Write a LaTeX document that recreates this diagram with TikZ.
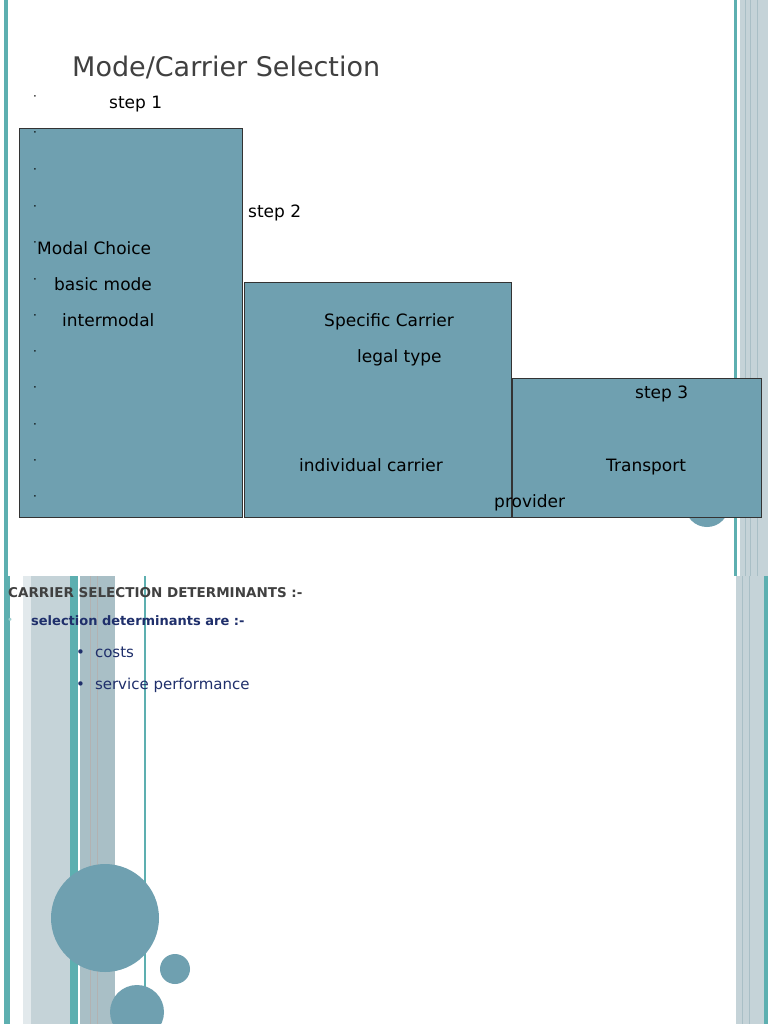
\documentclass[tikz,border=0pt]{standalone}
\usepackage{fontspec}
\setmainfont{DejaVu Sans}
\begin{document}
\begin{tikzpicture}[x=1pt,y=-1pt,
 box/.style={draw=black!80,line width=0.8pt,fill=boxc},
 t/.style={anchor=base west,inner sep=0,font=\fontsize{17}{17}\selectfont},
 dot/.style={anchor=base,inner sep=0,font=\fontsize{12}{12}\selectfont}]
\definecolor{boxc}{HTML}{6FA0B0}
\definecolor{teal1}{HTML}{5DAFB0}
\definecolor{lg}{HTML}{C5D3D8}
\definecolor{mg}{HTML}{A9BFC6}
\definecolor{navy}{HTML}{1F2F6B}
\useasboundingbox (0,0) rectangle (768,1024);
\fill[white] (0,0) rectangle (768,1024);
% top slide decorations
\fill[teal1] (4,0) rectangle (8,576);
\fill[lg] (740,0) rectangle (768,576);
\fill[teal1] (734,0) rectangle (737,576);
\draw[mg] (745,0)--(745,576) (750,0)--(750,576) (757,0)--(757,576);
\fill[boxc] (707,505) circle (22);
% bottom slide decorations
\fill[lg] (736,576) rectangle (768,1024);
\fill[teal1] (764,576) rectangle (768,1024);
\draw[mg] (742,576)--(742,1024) (749,576)--(749,1024);
\fill[teal1] (4,576) rectangle (10,1024);
\fill[lg!50] (23,576) rectangle (31,1024);
\fill[lg] (31,576) rectangle (70,1024);
\fill[teal1] (70,576) rectangle (78,1024);
\fill[mg] (80,576) rectangle (115,1024);
\draw[black!30] (90,576)--(90,1024) (97,576)--(97,1024);
\fill[teal1] (144,576) rectangle (146,1024);
\fill[boxc] (105,918) circle (54);
\fill[boxc] (175,969) circle (15);
\fill[boxc] (137,1012) circle (27);
% boxes
\node[box,inner sep=0,minimum width=223,minimum height=389,anchor=north west] (b1) at (19,128) {};
\node[box,inner sep=0,minimum width=267,minimum height=235,anchor=north west] (b2) at (244,282) {};
\node[box,inner sep=0,minimum width=249,minimum height=139,anchor=north west] (b3) at (512,378) {};
% title
\node[anchor=base west,inner sep=0,text=black!75,font=\fontsize{27}{27}\selectfont] (title) at (72,77) {Mode/Carrier Selection};
% dots
\foreach \y [count=\i] in {101,137,174,211,246,283,319,355,391,428,464,500}
  \node[dot] (d\i) at (35,\y) {·};
\node[t] (s1) at (109,109) {step 1};
\node[t] (s2) at (248,218) {step 2};
\node[t] (mc) at (37,254) {Modal Choice};
\node[t] (bm) at (54,290) {basic mode};
\node[t] (im) at (62,326) {intermodal};
\node[t] (sc) at (324,326) {Specific Carrier};
\node[t] (lt) at (357,362) {legal type};
\node[t] (s3) at (635,398) {step 3};
\node[t] (ic) at (299,471) {individual carrier};
\node[t] (tr) at (606,471) {Transport};
\node[t] (pr) at (494,507) {provider};
% bottom slide text
\node[anchor=base west,inner sep=0,text=black!75,font=\bfseries\fontsize{13.5}{13.5}\selectfont] (h) at (8,597) {CARRIER SELECTION DETERMINANTS :-};
\node[anchor=base west,inner sep=0,text=navy,font=\bfseries\fontsize{13}{13}\selectfont] (sd) at (31,625) {selection determinants are :-};
\node[anchor=base,inner sep=0,text=teal1!60] at (10,623) {•};
\node[anchor=base west,inner sep=0,text=navy,font=\fontsize{15}{15}\selectfont] (c) at (76,657) {•\hspace{10pt}costs};
\node[anchor=base west,inner sep=0,text=navy,font=\fontsize{15}{15}\selectfont] (sp) at (76,689) {•\hspace{10pt}service performance};
\end{tikzpicture}
\end{document}
